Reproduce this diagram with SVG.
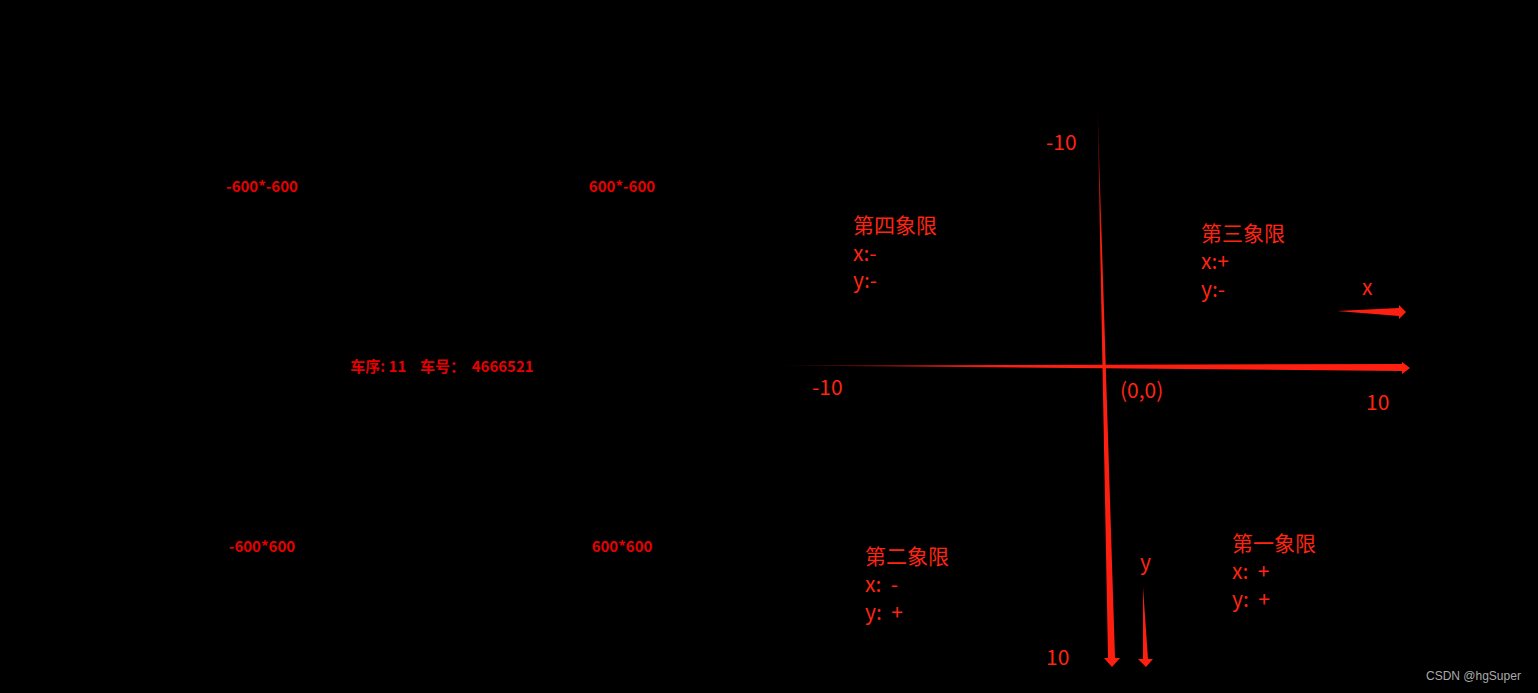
<svg xmlns="http://www.w3.org/2000/svg" width="1538" height="693" viewBox="0 0 1538 693">
<defs>
<style>
.l{font-family:"Noto Sans CJK SC","Microsoft YaHei",sans-serif;font-weight:bold;font-size:15px;fill:#e60000;text-anchor:middle}
.r{font-family:"Noto Sans CJK SC","Microsoft YaHei",sans-serif;font-size:21px;fill:#ff2412}
.ax{fill:#ff1f10}
</style>
<linearGradient id="gh" x1="782" y1="0" x2="1000" y2="0" gradientUnits="userSpaceOnUse">
<stop offset="0" stop-color="#ff1f10" stop-opacity="0.25"/>
<stop offset="1" stop-color="#ff1f10"/>
</linearGradient>
<linearGradient id="gv" x1="0" y1="105" x2="0" y2="240" gradientUnits="userSpaceOnUse">
<stop offset="0" stop-color="#ff1f10" stop-opacity="0.25"/>
<stop offset="1" stop-color="#ff1f10"/>
</linearGradient>
</defs>
<rect width="1538" height="693" fill="#000"/>
<g id="left-labels">
<text class="l" x="262" y="192">-600*-600</text>
<text class="l" x="622" y="192">600*-600</text>
<text class="l" x="442" y="372" xml:space="preserve">车序: 11    车号：  4666521</text>
<text class="l" x="262" y="552">-600*600</text>
<text class="l" x="622" y="552">600*600</text>
</g>
<g id="connectors">
<polygon fill="url(#gh)" points="782,365.5 1402,364 1402,362 1410,368 1402,374 1402,371"/>
<polygon fill="url(#gv)" points="1097.5,105 1115,658 1120,658 1112,667 1104,658 1108,658"/>
<polygon class="ax" points="1337,311 1399,308 1399,305 1406,312 1399,319 1399,316"/>
<polygon class="ax" points="1143,587 1148,659 1153,659 1146,667 1138,659 1143,659"/>
</g>
<g id="axis-labels">
<text class="r" x="1046" y="150">-10</text>
<text class="r" x="812" y="395">-10</text>
<text class="r" x="1120" y="398">(0,0)</text>
<text class="r" x="1366" y="410">10</text>
<text class="r" x="1046" y="665">10</text>
<text class="r" x="1362" y="295">x</text>
<text class="r" x="1140" y="570">y</text>
</g>
<g id="q4">
<text class="r" x="853" y="233">第四象限</text>
<text class="r" x="853" y="261">x:-</text>
<text class="r" x="853" y="288">y:-</text>
</g>
<g id="q3">
<text class="r" x="1201" y="241">第三象限</text>
<text class="r" x="1201" y="269">x:+</text>
<text class="r" x="1201" y="297">y:-</text>
</g>
<g id="q2">
<text class="r" x="865" y="564">第二象限</text>
<text class="r" x="865" y="592" xml:space="preserve">x:  -</text>
<text class="r" x="865" y="620" xml:space="preserve">y:  +</text>
</g>
<g id="q1">
<text class="r" x="1232" y="551">第一象限</text>
<text class="r" x="1232" y="579" xml:space="preserve">x:  +</text>
<text class="r" x="1232" y="607" xml:space="preserve">y:  +</text>
</g>
<text x="1426" y="680" font-family="Liberation Sans,Arial,sans-serif" font-size="12" fill="#aaa">CSDN @hgSuper</text>
</svg>
